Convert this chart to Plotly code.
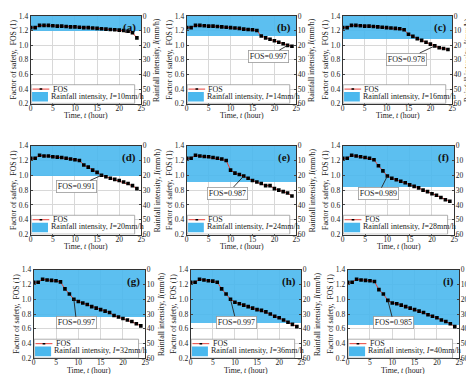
import plotly.graph_objects as go

hours = list(range(25))
panel_labels = ["(a)", "(b)", "(c)", "(d)", "(e)", "(f)", "(g)", "(h)", "(i)"]
rain_labels = [10, 14, 16, 20, 24, 28, 32, 36, 40]
rain_bar = [10, 14, 16, 20, 24, 28, 32, 36, 37]

fos_a = [1.24, 1.24, 1.27, 1.27, 1.27, 1.265, 1.26, 1.26, 1.255, 1.25, 1.25, 1.245, 1.24,
         1.24, 1.235, 1.23, 1.225, 1.22, 1.215, 1.21, 1.205, 1.20, 1.19, 1.17, 1.10]
fos_b = [1.24, 1.24, 1.27, 1.27, 1.265, 1.26, 1.26, 1.255, 1.25, 1.245, 1.24, 1.235, 1.23,
         1.22, 1.215, 1.21, 1.20, 1.125, 1.10, 1.08, 1.06, 1.04, 1.02, 0.997, 0.985]
fos_c = [1.24, 1.24, 1.27, 1.27, 1.265, 1.26, 1.26, 1.255, 1.25, 1.245, 1.24, 1.235, 1.23,
         1.225, 1.21, 1.15, 1.12, 1.09, 1.065, 1.04, 1.015, 0.99, 0.965, 0.955, 0.94]
fos_d = [1.23, 1.23, 1.27, 1.26, 1.26, 1.25, 1.245, 1.24, 1.23, 1.22, 1.21, 1.20, 1.14,
         1.11, 1.07, 1.04, 1.00, 0.98, 0.96, 0.945, 0.93, 0.91, 0.89, 0.86, 0.82]
fos_e = [1.23, 1.23, 1.27, 1.26, 1.255, 1.25, 1.24, 1.23, 1.22, 1.20, 1.07, 1.03, 1.01,
         0.99, 0.96, 0.93, 0.91, 0.89, 0.86, 0.86, 0.82, 0.80, 0.78, 0.76, 0.72]
fos_f = [1.23, 1.23, 1.27, 1.26, 1.25, 1.24, 1.23, 1.21, 1.13, 1.06, 0.99, 0.96, 0.94,
         0.92, 0.90, 0.87, 0.85, 0.83, 0.80, 0.78, 0.75, 0.73, 0.70, 0.67, 0.65]
fos_g = [1.23, 1.23, 1.27, 1.26, 1.255, 1.25, 1.235, 1.14, 1.07, 1.00, 0.97, 0.95, 0.93,
         0.90, 0.88, 0.86, 0.84, 0.82, 0.78, 0.76, 0.74, 0.72, 0.70, 0.67, 0.64]
fos_h = [1.23, 1.23, 1.27, 1.26, 1.25, 1.245, 1.23, 1.14, 1.07, 1.00, 0.96, 0.94, 0.92,
         0.90, 0.88, 0.86, 0.85, 0.83, 0.80, 0.77, 0.75, 0.72, 0.69, 0.66, 0.63]
fos_i = [1.23, 1.23, 1.27, 1.26, 1.255, 1.25, 1.24, 1.13, 1.07, 0.985, 0.95, 0.94, 0.92,
         0.90, 0.88, 0.86, 0.84, 0.82, 0.79, 0.77, 0.75, 0.72, 0.70, 0.67, 0.63]
fos_all = [fos_a, fos_b, fos_c, fos_d, fos_e, fos_f, fos_g, fos_h, fos_i]

crit_text = [None, "FOS=0.997", "FOS=0.978", "FOS=0.991", "FOS=0.987",
             "FOS=0.989", "FOS=0.997", "FOS=0.997", "FOS=0.985"]
crit_hour = [None, 23, 21, 16, 13, 10, 9, 9, 9]
crit_box = [None, (18.7, 0.85), (14.6, 0.81), (10.4, 0.85), (9.4, 0.76),
            (8.0, 0.75), (9.6, 0.68), (10.3, 0.69), (10.3, 0.68)]

W, H = 474, 374
boxes = [(21, 133, 4, 94), (179, 290, 4, 94), (337, 448, 4, 94),
         (21, 133, 137, 228), (179, 290, 137, 228), (337, 450, 137, 228),
         (24, 137, 264, 355), (183, 295, 264, 355), (342, 455, 264, 355)]

BLUE = "rgba(74,184,238,0.9)"
FONT = "Liberation Serif"
TICKF = dict(family=FONT, size=7.5, color="#222")
TITLEF = dict(family=FONT, size=7.8, color="#222")

fig = go.Figure()
layout = dict(width=W, height=H, margin=dict(l=0, r=0, t=0, b=0),
              paper_bgcolor="white", plot_bgcolor="white", showlegend=False,
              font=dict(family=FONT, size=8, color="#222"), bargap=0)
shapes = []
annos = []

for k in range(9):
    xa = "x" if k == 0 else f"x{k+1}"
    yr = "y" if k == 0 else f"y{2*k+1}"      # base axis: rainfall (right)
    yf = f"y{2*k+2}"                          # overlay axis: FOS (left)
    xkey = "xaxis" if k == 0 else f"xaxis{k+1}"
    yrkey = "yaxis" if k == 0 else f"yaxis{2*k+1}"
    yfkey = f"yaxis{2*k+2}"
    l, r, t, b = boxes[k]
    dx = [l / W, r / W]
    dy = [1 - b / H, 1 - t / H]
    layout[xkey] = dict(domain=dx, anchor=yr, range=[0, 25], tickvals=[0, 5, 10, 15, 20, 25],
                        ticks="inside", ticklen=2, linecolor="#333", linewidth=1, mirror=True,
                        showgrid=True, gridcolor="#d8d8d8", zeroline=False, tickfont=TICKF,
                        ticklabelstandoff=-3)
    layout[yrkey] = dict(domain=dy, anchor=xa, side="right", range=[60, 0],
                         tickvals=[0, 10, 20, 30, 40, 50, 60], showgrid=False, zeroline=False,
                         ticks="inside", ticklen=2, linecolor="#333", linewidth=1, tickfont=TICKF,
                         ticklabelstandoff=-1)
    layout[yfkey] = dict(domain=dy, anchor=xa, overlaying=yr, side="left", range=[0.2, 1.4],
                         tickvals=[0.2, 0.4, 0.6, 0.8, 1.0, 1.2, 1.4],
                         ticktext=["0.2", "0.4", "0.6", "0.8", "1.0", "1.2", "1.4"],
                         ticks="inside", ticklen=2, linecolor="#333", linewidth=1,
                         showgrid=True, gridcolor="#d8d8d8", zeroline=False, tickfont=TICKF,
                         title=dict(text="Factor of safety,  FOS (1)", font=TITLEF, standoff=1))

    fig.add_trace(go.Bar(x=[h + 0.5 for h in range(25)], y=[rain_bar[k]] * 25, base=0, width=1,
                         marker=dict(color=BLUE, line=dict(width=0)), xaxis=xa, yaxis=yr))
    fig.add_trace(go.Scatter(x=hours, y=fos_all[k], mode="lines+markers",
                             line=dict(color="#e8403a", width=1),
                             marker=dict(symbol="square", size=3.6, color="black"),
                             xaxis=xa, yaxis=yf))

    annos.append(dict(x=(l + r) / 2 / W, y=1 - (b + 12.5) / H, xref="paper", yref="paper",
                      text="Time, <i>t</i> (hour)", showarrow=False, xanchor="center",
                      yanchor="middle", font=TITLEF))
    annos.append(dict(x=min(r + 16, 466) / W, y=1 - (t + b) / 2 / H, xref="paper", yref="paper",
                      text="Rainfall intensity, <i>I</i>(mm/h)", showarrow=False, textangle=-90,
                      xanchor="center", yanchor="middle", font=TITLEF))
    annos.append(dict(x=24.3, y=1.355, xref=xa, yref=yf, text=f"<b>{panel_labels[k]}</b>",
                      showarrow=False, xanchor="right", yanchor="top",
                      font=dict(family=FONT, size=11, color="#111")))
    shapes.append(dict(type="rect", xref=xa, yref=yf, x0=0.1, x1=23.5, y0=0.205, y1=0.46,
                       fillcolor="white", line=dict(color="#999", width=0.8), layer="above"))
    shapes.append(dict(type="line", xref=xa, yref=yf, x0=0.4, x1=4.2, y0=0.40, y1=0.40,
                       line=dict(color="#e8403a", width=1), layer="above"))
    shapes.append(dict(type="rect", xref=xa, yref=yf, x0=2.0, x1=2.6, y0=0.39, y1=0.41,
                       fillcolor="black", line=dict(width=0), layer="above"))
    shapes.append(dict(type="rect", xref=xa, yref=yf, x0=0.3, x1=3.9, y0=0.23, y1=0.36,
                       fillcolor="#4ab8ee", line=dict(width=0), layer="above"))
    annos.append(dict(x=4.5, y=0.40, xref=xa, yref=yf, text="FOS", showarrow=False,
                      xanchor="left", yanchor="middle", font=dict(family=FONT, size=8, color="#222")))
    annos.append(dict(x=4.2, y=0.305, xref=xa, yref=yf,
                      text=f"Rainfall intensity, <i>I</i>={rain_labels[k]}mm/h", showarrow=False,
                      xanchor="left", yanchor="middle", font=dict(family=FONT, size=8, color="#222")))
    if crit_text[k]:
        hx = crit_hour[k]
        bx, by = crit_box[k]
        annos.append(dict(x=hx, y=fos_all[k][hx], xref=xa, yref=yf, ax=bx, ay=by,
                          axref=xa, ayref=yf, text=crit_text[k], showarrow=True, arrowhead=0,
                          arrowwidth=0.9, arrowcolor="#222", bgcolor="white", bordercolor="#999",
                          borderwidth=0.8, borderpad=1,
                          font=dict(family=FONT, size=8, color="#222")))

layout["shapes"] = shapes
layout["annotations"] = annos
fig.update_layout(**layout)
fig.write_html("out.html")
